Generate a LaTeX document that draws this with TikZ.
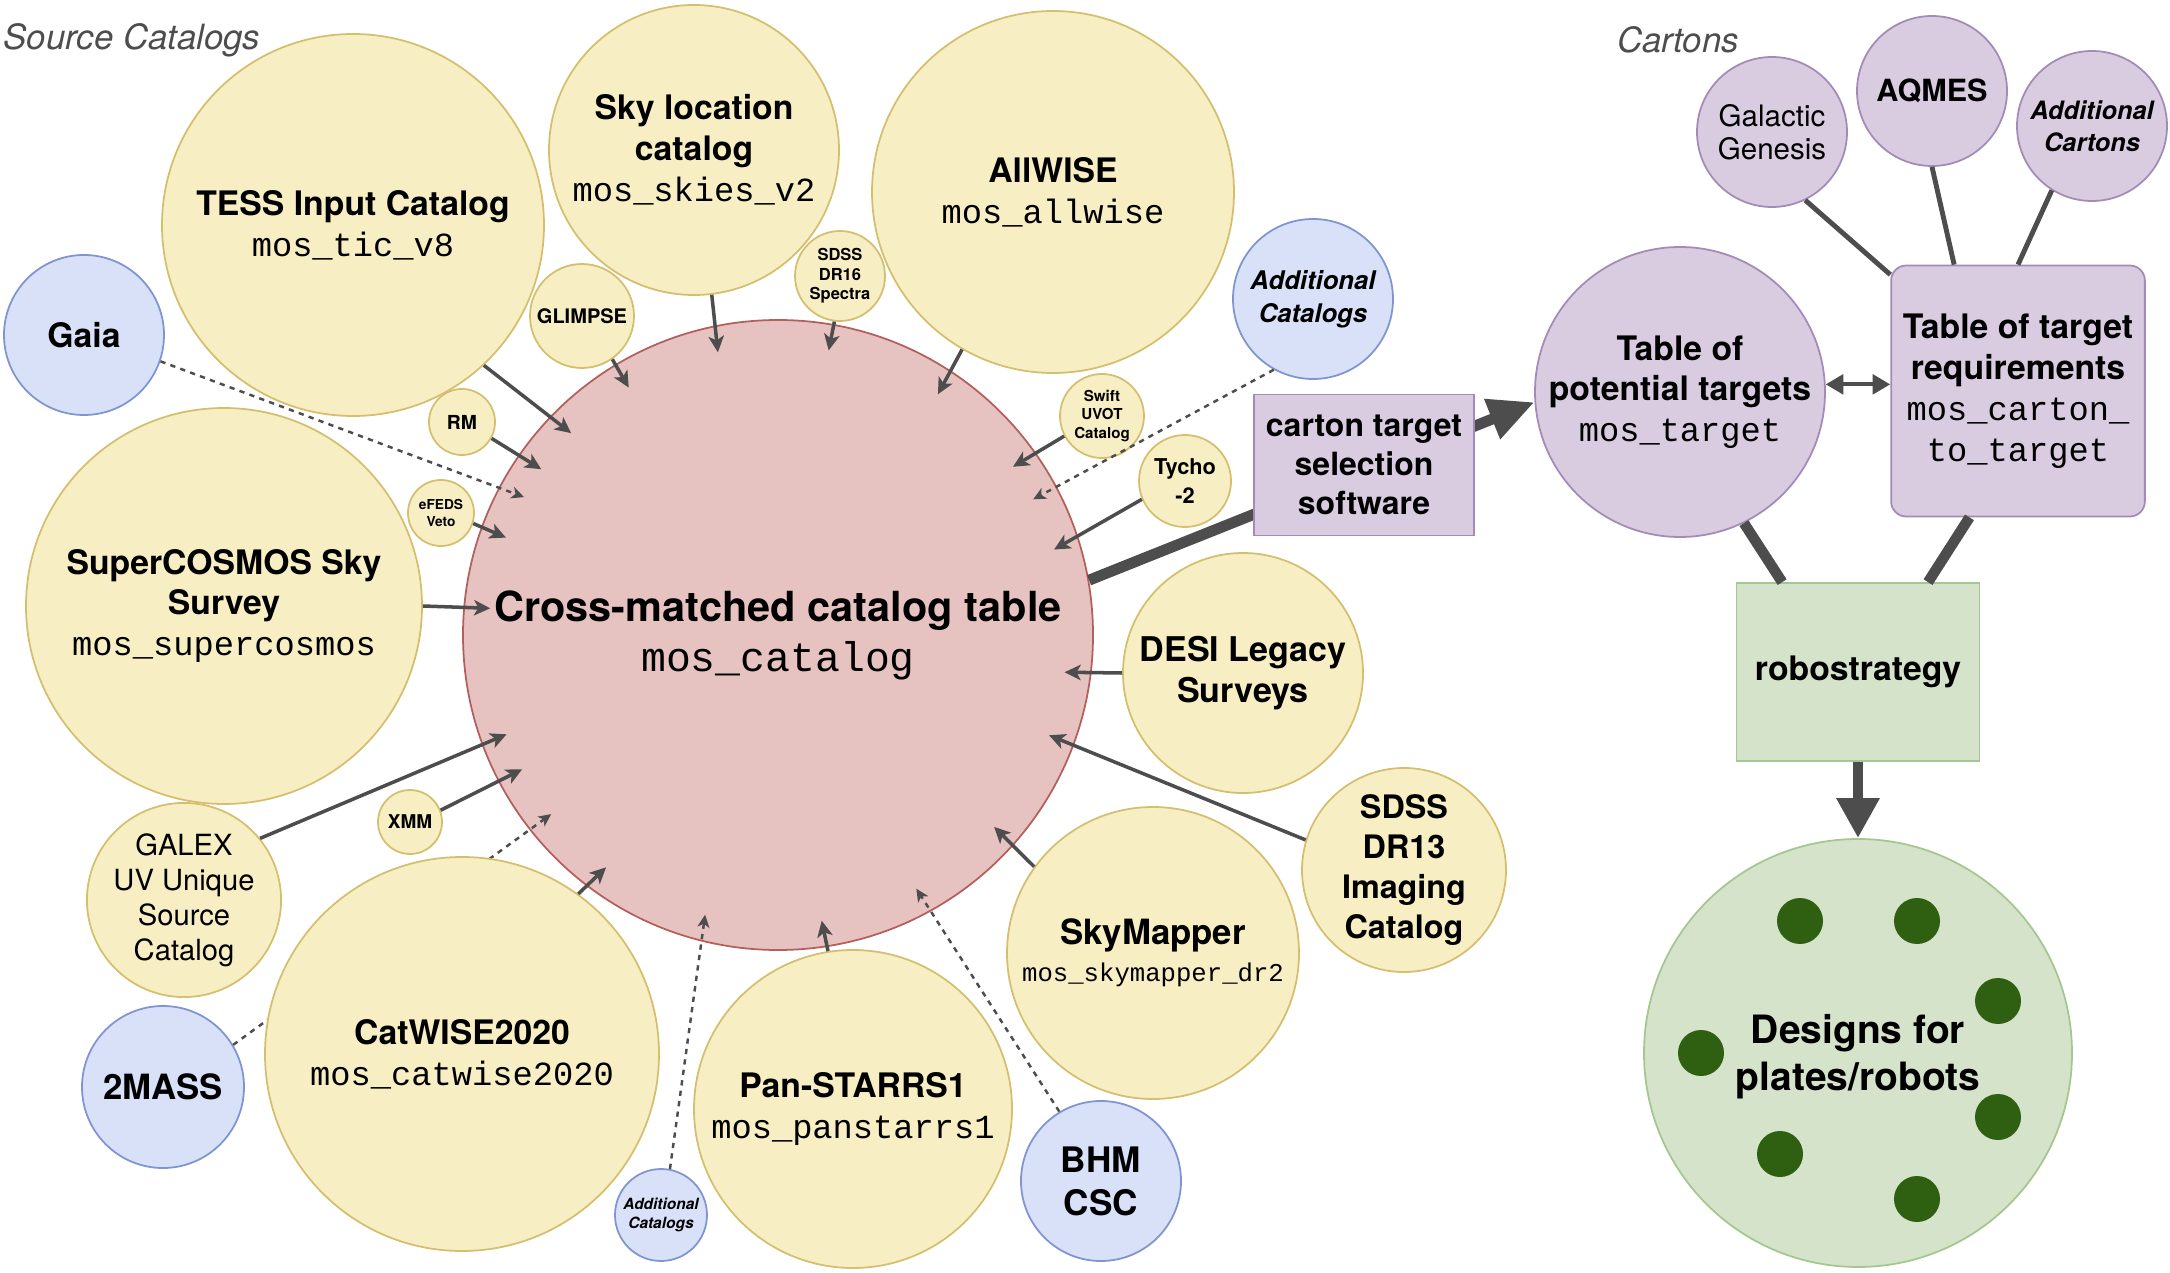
\documentclass[tikz,border=0pt]{standalone}
\usepackage{fontspec}
\setmainfont{TeX Gyre Heros}
\setmonofont{Liberation Mono}
\usepackage{xcolor}
\usetikzlibrary{arrows.meta, calc}

\definecolor{srcfill}{HTML}{F7EEC4}
\definecolor{srcline}{HTML}{D3BF6E}
\definecolor{xfill}{HTML}{D9E1F8}
\definecolor{xline}{HTML}{7F94D0}
\definecolor{hubfill}{HTML}{E6C3C1}
\definecolor{hubline}{HTML}{B3605C}
\definecolor{cartfill}{HTML}{D9CCE1}
\definecolor{cartline}{HTML}{A28BB6}
\definecolor{robofill}{HTML}{D5E3CB}
\definecolor{roboline}{HTML}{A3C78F}
\definecolor{dotgreen}{HTML}{2F5F10}
\definecolor{linkgray}{HTML}{4D4D4D}

\newcommand{\txtsize}[2]{\fontsize{#1}{#2}\selectfont}
\newcommand{\tbl}[1]{{\mdseries\upshape\ttfamily #1}}

\tikzset{
  srccat/.style={circle, draw=srcline, fill=srcfill, line width=0.5pt, inner sep=0pt,
    align=center, font=\bfseries\txtsize{9.6}{11.6}},
  xcat/.style={srccat, draw=xline, fill=xfill},
  carton/.style={srccat, draw=cartline, fill=cartfill},
  feed/.style={draw=linkgray, line width=1pt, -{Stealth[length=4.6pt,width=4.4pt,inset=1.2pt]}},
  faint/.style={draw=linkgray, line width=0.7pt, dash pattern=on 1.5pt off 1.5pt,
    -{Stealth[length=3.6pt,width=3.4pt,inset=1pt]}},
  tie/.style={draw=linkgray, line width=1.4pt},
  bar/.style={draw=linkgray, line width=3pt},
  heading/.style={font=\itshape\txtsize{9.9}{12}, text=linkgray, inner sep=0pt}
}

\begin{document}
\begin{tikzpicture}
  \useasboundingbox (0,0) rectangle (21.70,12.72);
  % Headings
  \node[heading, anchor=west] (hsrc) at (0.03,12.32) {Source Catalogs};
  \node[heading] (hcart) at (16.78,12.32) {Cartons};

  % Cross-matched catalog table
  \node[srccat, minimum size=6.30cm, fill=hubfill, draw=hubline,
    font=\bfseries\txtsize{11.8}{14.2}] (circ) at (7.78,6.37)
    {Cross-matched catalog table\\\tbl{mos\_catalog}};

  % Large source catalogs
  \node[srccat, minimum size=3.82cm] (tess) at (3.53,10.47) {TESS Input Catalog\\\tbl{mos\_tic\_v8}};
  \node[srccat, minimum size=2.90cm] (sky) at (6.94,11.22) {Sky location\\catalog\\\tbl{mos\_skies\_v2}};
  \node[srccat, minimum size=3.62cm] (allwise) at (10.53,10.80) {AllWISE\\\tbl{mos\_allwise}};
  \node[srccat, minimum size=3.96cm] (supercosmos) at (2.24,6.66) {SuperCOSMOS Sky\\Survey\\\tbl{mos\_supercosmos}};
  \node[srccat, minimum size=2.40cm, font=\bfseries\txtsize{9.7}{11.6}] (desi) at (12.43,5.99) {DESI Legacy\\Surveys};
  \node[srccat, minimum size=2.04cm, font=\bfseries\txtsize{9.2}{11.4}] (sdss13) at (14.04,4.02) {SDSS\\DR13\\Imaging\\Catalog};
  \node[srccat, minimum size=2.92cm, font=\bfseries\txtsize{9.9}{10.5}] (skymapper) at (11.53,3.19)
    {SkyMapper\\{\txtsize{7.3}{8}\tbl{mos\_skymapper\_dr2}}};
  \node[srccat, minimum size=3.18cm] (panstarrs) at (8.53,1.63) {Pan-STARRS1\\\tbl{mos\_panstarrs1}};
  \node[srccat, minimum size=1.92cm, font=\txtsize{8.3}{10}] (galex) at (1.84,3.72) {GALEX\\UV Unique\\Source\\Catalog};

  % Small source catalogs
  \node[srccat, minimum size=1.04cm, font=\bfseries\txtsize{5.7}{6.8}] (glimpse) at (5.82,9.56) {GLIMPSE};
  \node[srccat, minimum size=0.90cm, font=\bfseries\txtsize{4.7}{5.5}] (sdss16) at (8.40,9.96) {SDSS\\DR16\\Spectra};
  \node[srccat, minimum size=0.66cm, font=\bfseries\txtsize{5.5}{6.5}] (rm) at (4.62,8.50) {RM};
  \node[srccat, minimum size=0.66cm, font=\bfseries\txtsize{3.9}{4.7}] (efeds) at (4.41,7.59) {eFEDS\\Veto};
  \node[srccat, minimum size=0.84cm, font=\bfseries\txtsize{4.3}{5.3}] (swift) at (11.02,8.56) {Swift\\UVOT\\Catalog};
  \node[srccat, minimum size=0.92cm, font=\bfseries\txtsize{6.2}{8.3}] (tycho) at (11.85,7.91) {Tycho\\-2};
  \node[srccat, minimum size=0.64cm, font=\bfseries\txtsize{5.4}{6.5}] (xmm) at (4.10,4.50) {XMM};

  % Crossmatch-only catalogs
  \node[xcat, minimum size=1.60cm] (gaia) at (0.84,9.37) {Gaia};
  \node[xcat, minimum size=1.60cm, font=\bfseries\itshape\txtsize{7.3}{9.4}] (addcat) at (13.13,9.73) {Additional\\Catalogs};
  \node[xcat, minimum size=1.62cm, font=\bfseries\txtsize{9.9}{12}] (twomass) at (1.63,1.85) {2MASS};
  \node[xcat, minimum size=1.60cm, font=\bfseries\txtsize{10}{12.2}] (bhm) at (11.01,0.91) {BHM\\CSC};
  \node[xcat, minimum size=0.92cm, font=\bfseries\itshape\txtsize{4.4}{5.5}] (addcat2) at (6.61,0.57) {Additional\\Catalogs};

  % 2MASS runs behind CatWISE
  \draw[faint] (twomass.31.2) -- ($(circ.center)+(218.3:2.89)$);
  \node[srccat, minimum size=3.94cm] (catwise) at (4.62,2.18) {CatWISE2020\\\tbl{mos\_catwise2020}};

  % Catalog feeds
  \foreach \s/\b/\a in {tess/313/135.7, sky/277/102, glimpse/305.8/121.1, sdss16/263.8/79.9,
      rm/331/145, efeds/342.6/160.3, supercosmos/0/174.7, galex/39.1/200.1, xmm/21.8/207.7,
      catwise/54/233.5, panstarrs/99/278.7, skymapper/144.2/318.4, sdss13/163/339.7,
      desi/180/352.6, tycho/203.4/17.2, swift/208.3/35.6, allwise/240.3/56.4} {
    \draw[feed] (\s.\b) -- ($(circ.center)+(\a:2.89)$);
  }
  \foreach \s/\b/\a in {gaia/341.3/151.5, addcat2/79.4/255.4, bhm/121.6/298.6, addcat/241.2/28} {
    \draw[faint] (\s.\b) -- ($(circ.center)+(\a:2.89)$);
  }

  % Cartons
  \node[carton, minimum size=2.90cm] (pot) at (16.80,8.80) {Table of\\potential targets\\\tbl{mos\_target}};
  \draw[linkgray, line width=3.1pt, -{Triangle[length=13pt,width=11.5pt]}] (circ.10.7) -- (pot.184.6);
  \node[draw=cartline, fill=cartfill, line width=0.5pt, minimum width=2.10cm, minimum height=1.41cm,
    align=center, font=\bfseries\txtsize{9.1}{11.2}] (selsw) at (13.64,8.07) {carton target\\selection\\software};
  \node[draw=cartline, fill=cartfill, line width=0.5pt, rounded corners=0.15cm, minimum width=2.53cm,
    minimum height=2.51cm, align=center, font=\bfseries\txtsize{9.6}{11.7}] (req) at (20.18,8.81)
    {Table of target\\requirements\\\tbl{mos\_carton\_}\\\tbl{to\_target}};
  \node[carton, minimum size=1.50cm, font=\txtsize{8.4}{9.4}] (gg) at (17.72,11.40) {Galactic\\Genesis};
  \node[carton, minimum size=1.50cm, font=\bfseries\txtsize{8.7}{10}] (aqmes) at (19.32,11.81) {AQMES};
  \node[carton, minimum size=1.50cm, font=\bfseries\itshape\txtsize{7.2}{9.1}] (addcart) at (20.92,11.46) {Additional\\Cartons};
  \draw[tie] (gg.-64.5) -- ($(req.north west)+(0,-0.10)$);
  \draw[tie] (aqmes.south) -- ($(req.north west)!0.25!(req.north east)$);
  \draw[tie] (addcart.238.5) -- (req.north);
  \draw[linkgray, line width=1.2pt, {Triangle[length=5pt,width=5.5pt]}-{Triangle[length=5pt,width=5.5pt]}]
    (pot.3.5) -- (req.west |- pot.3.5);

  % robostrategy and designs
  \node[draw=roboline, fill=robofill, line width=0.5pt, minimum width=2.43cm, minimum height=1.78cm,
    font=\bfseries\txtsize{9.6}{11.6}] (robo) at (18.58,6.00) {robostrategy};
  \draw[bar] (pot.296.7) -- ($(robo.north west)!0.19!(robo.north east)$);
  \draw[bar] ($(req.south west)!0.31!(req.south east)$) -- ($(robo.north west)!0.786!(robo.north east)$);
  \node[srccat, minimum size=4.28cm, draw=roboline, fill=robofill] (designs) at (18.58,2.19) {};
  \foreach \dx/\dy in {-0.58/1.32, 0.59/1.32, 1.40/0.52, -1.57/0, 1.40/-0.64, -0.78/-1.01, 0.59/-1.46} {
    \fill[dotgreen] ($(designs.center)+(\dx,\dy)$) circle (0.23);
  }
  \node[font=\bfseries\txtsize{11.1}{13.4}, align=center] (dtext) at ($(designs.center)+(0,-0.04)$) {Designs for\\plates/robots};
  \draw[linkgray, line width=3.1pt, -{Triangle[length=11.4pt,width=11.6pt]}] (robo.south) -- (designs.north);
\end{tikzpicture}
\end{document}
